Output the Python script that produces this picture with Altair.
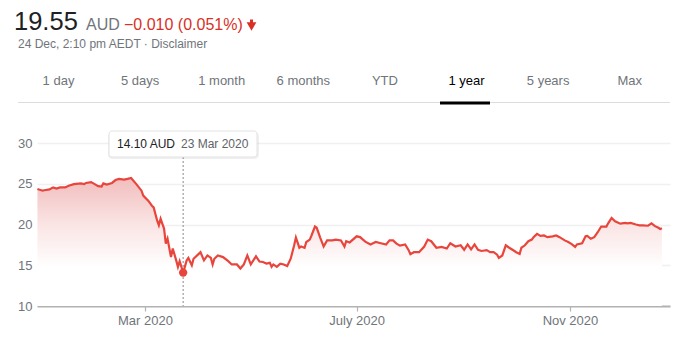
import altair as alt
import pandas as pd

# ---- data ----
dates = [
    "2019-12-30", "2020-01-02", "2020-01-03", "2020-01-06", "2020-01-08", "2020-01-10",
    "2020-01-12", "2020-01-15", "2020-01-17", "2020-01-20", "2020-01-24", "2020-01-26",
    "2020-01-27", "2020-01-30", "2020-02-01", "2020-02-03", "2020-02-05", "2020-02-06",
    "2020-02-08", "2020-02-11", "2020-02-13", "2020-02-15", "2020-02-18", "2020-02-20",
    "2020-02-22", "2020-02-25", "2020-02-28", "2020-02-29", "2020-03-03", "2020-03-05",
    "2020-03-06", "2020-03-08", "2020-03-09", "2020-03-10", "2020-03-12", "2020-03-13",
    "2020-03-14", "2020-03-16", "2020-03-17", "2020-03-19", "2020-03-20", "2020-03-21",
    "2020-03-23", "2020-03-24", "2020-03-25", "2020-03-26", "2020-03-28", "2020-03-29",
    "2020-04-01", "2020-04-02", "2020-04-04", "2020-04-06", "2020-04-08", "2020-04-09",
    "2020-04-10", "2020-04-12", "2020-04-15", "2020-04-18", "2020-04-20", "2020-04-23",
    "2020-04-25", "2020-04-27", "2020-04-29", "2020-05-01", "2020-05-04", "2020-05-06",
    "2020-05-08", "2020-05-10", "2020-05-12", "2020-05-13", "2020-05-14", "2020-05-16",
    "2020-05-18", "2020-05-20", "2020-05-22", "2020-05-24", "2020-05-26", "2020-05-27",
    "2020-05-29", "2020-05-30", "2020-06-01", "2020-06-02", "2020-06-04", "2020-06-05",
    "2020-06-07", "2020-06-08", "2020-06-10", "2020-06-12", "2020-06-14", "2020-06-17",
    "2020-06-19", "2020-06-22", "2020-06-24", "2020-06-25", "2020-06-27", "2020-07-01",
    "2020-07-03", "2020-07-06", "2020-07-09", "2020-07-12", "2020-07-15", "2020-07-18",
    "2020-07-20", "2020-07-22", "2020-07-24", "2020-07-26", "2020-07-29", "2020-07-31",
    "2020-08-01", "2020-08-03", "2020-08-06", "2020-08-09", "2020-08-11", "2020-08-13",
    "2020-08-16", "2020-08-19", "2020-08-22", "2020-08-24", "2020-08-27", "2020-08-30",
    "2020-09-01", "2020-09-03", "2020-09-05", "2020-09-07", "2020-09-09", "2020-09-11",
    "2020-09-14", "2020-09-16", "2020-09-18", "2020-09-20", "2020-09-21", "2020-09-23",
    "2020-09-25", "2020-09-27", "2020-09-30", "2020-10-01", "2020-10-03", "2020-10-04",
    "2020-10-06", "2020-10-08", "2020-10-10", "2020-10-11", "2020-10-13", "2020-10-15",
    "2020-10-17", "2020-10-19", "2020-10-22", "2020-10-24", "2020-10-26", "2020-10-29",
    "2020-10-31", "2020-11-02", "2020-11-04", "2020-11-05", "2020-11-08", "2020-11-10",
    "2020-11-11", "2020-11-13", "2020-11-15", "2020-11-17", "2020-11-19", "2020-11-22",
    "2020-11-23", "2020-11-25", "2020-11-27", "2020-11-30", "2020-12-03", "2020-12-04",
    "2020-12-06", "2020-12-09", "2020-12-11", "2020-12-13", "2020-12-16", "2020-12-18",
    "2020-12-20", "2020-12-22", "2020-12-23", "2020-12-24",
]
prices = [
    24.35, 24.15, 24.20, 24.30, 24.55, 24.40,
    24.55, 24.55, 24.75, 24.95, 25.05, 24.95,
    25.10, 25.20, 24.95, 24.70, 24.65, 25.05,
    24.90, 25.10, 25.45, 25.60, 25.50, 25.60,
    25.70, 24.95, 24.15, 23.55, 22.90, 22.30,
    22.10, 20.50, 19.90, 20.70, 19.50, 17.65,
    18.25, 16.00, 17.05, 15.60, 14.80, 15.50,
    14.10, 14.80, 15.60, 15.90, 15.00, 15.80,
    16.40, 16.60, 15.60, 16.20, 15.90, 15.10,
    15.80, 16.20, 16.00, 15.50, 15.10, 15.10,
    14.60, 15.10, 16.20, 15.10, 16.10, 15.45,
    15.40, 15.20, 15.30, 14.80, 15.10, 14.80,
    15.20, 15.10, 14.90, 15.80, 17.45, 18.40,
    17.15, 17.30, 17.15, 17.85, 18.15, 18.65,
    19.75, 19.60, 18.40, 17.30, 18.05, 18.05,
    18.15, 18.05, 17.30, 17.95, 17.80, 18.55,
    18.45, 17.90, 17.55, 17.85, 17.70, 17.55,
    18.05, 18.05, 17.65, 17.40, 17.55, 16.85,
    16.35, 16.60, 16.60, 17.30, 18.15, 17.95,
    17.15, 17.25, 17.05, 17.70, 17.30, 17.45,
    16.90, 17.55, 16.95, 17.55, 16.90, 16.75,
    16.85, 16.60, 16.60, 16.30, 15.90, 16.20,
    17.45, 17.15, 16.75, 16.60, 16.40, 17.15,
    17.45, 17.95, 18.15, 18.45, 18.85, 18.60,
    18.65, 18.45, 18.55, 18.65, 18.45, 18.05,
    17.85, 17.60, 17.25, 17.55, 17.70, 18.55,
    18.60, 18.25, 18.45, 19.05, 19.75, 19.75,
    20.15, 20.80, 20.40, 20.10, 20.20, 20.15,
    20.20, 20.00, 19.90, 19.90, 19.85, 20.15,
    19.80, 19.60, 19.45, 19.55,
]

y_ticks = [10, 15, 20, 25, 30]
tick_dates = ["2020-03-01", "2020-07-01", "2020-11-01"]
tick_labels = ["Mar 2020", "July 2020", "Nov 2020"]

hl_date = ["2020-03-23"]
hl_price = [14.10]
hl_price_text = "14.10 AUD"
hl_date_text = "23 Mar 2020"

header_price = "19.55"
header_ccy = "AUD"
header_change = "\u22120.010 (0.051%)"
header_sub = "24 Dec, 2:10 pm AEDT \u00b7 Disclaimer"
tabs = ["1 day", "5 days", "1 month", "6 months", "YTD", "1 year", "5 years", "Max"]
active_tab = "1 year"

# ---- styling ----
FONT = "Liberation Sans"
RED = "#e8453c"
TXT_RED = "#d93025"
GREY = "#70757a"
DARK = "#202124"

df = pd.DataFrame({"date": dates, "price": prices})
hl = pd.DataFrame({"date": hl_date, "price": hl_price})
one = pd.DataFrame({"a": [0]})

x_dom = [alt.DateTime(year=2019, month=12, date=29, hours=18, utc=True),
         alt.DateTime(year=2020, month=12, date=28, hours=16, utc=True)]
tick_vals = [alt.DateTime(year=int(d[:4]), month=int(d[5:7]), date=int(d[8:]), utc=True)
             for d in tick_dates]
label_expr = " : ".join(
    f"utcFormat(datum.value, '%Y-%m-%d') == '{d}' ? '{l}'" for d, l in zip(tick_dates, tick_labels)
) + " : ''"

xscale = alt.Scale(type="utc", domain=x_dom)
yscale = alt.Scale(domain=[10, 30], zero=False, nice=False)

X = alt.X("date:T", scale=xscale,
          axis=alt.Axis(values=tick_vals, labelExpr=label_expr, title=None, grid=False,
                        domainColor="#b3b3b3", domainWidth=2, tickColor="#b3b3b3",
                        tickSize=5, tickWidth=1.2, labelColor=GREY, labelFontSize=13,
                        labelFont=FONT, labelPadding=3, labelFlush=False))
Y = alt.Y("price:Q", scale=yscale,
          axis=alt.Axis(values=y_ticks, title=None, domain=False, ticks=False,
                        gridColor="#f0f0f0", gridWidth=1.5, labelColor=GREY,
                        labelFontSize=13, labelFont=FONT, labelPadding=5))

gradient = alt.Gradient(
    gradient="linear", x1=0, x2=0, y1=0, y2=1,
    stops=[alt.GradientStop(color="#f2bdbd", offset=0),
           alt.GradientStop(color="#fae3e3", offset=0.35),
           alt.GradientStop(color="#ffffff", offset=0.7)])

area = alt.Chart(df).mark_area(color=gradient).encode(x=X, y=Y, y2=alt.datum(10))
line = alt.Chart(df).mark_line(color=RED, strokeWidth=2.2, interpolate="linear").encode(
    x=alt.X("date:T", scale=xscale), y=alt.Y("price:Q", scale=yscale))

vrule = alt.Chart(hl).mark_rule(color="#8a8a8a", strokeDash=[2, 2], strokeWidth=1).encode(
    x=alt.X("date:T", scale=xscale), y=alt.value(14), y2=alt.value(163))
dot = alt.Chart(hl).mark_point(filled=True, color=RED, size=70, opacity=1).encode(
    x=alt.X("date:T", scale=xscale), y=alt.Y("price:Q", scale=yscale))

# tooltip box
shadow = alt.Chart(one).mark_rect(color="#000000", opacity=0.06, cornerRadius=4).encode(
    x=alt.value(71), x2=alt.value(222), y=alt.value(-11), y2=alt.value(16))
box = alt.Chart(one).mark_rect(color="#ffffff", stroke="#e3e3e3", strokeWidth=1,
                               cornerRadius=3).encode(
    x=alt.value(72), x2=alt.value(220), y=alt.value(-12), y2=alt.value(14))
tt1 = alt.Chart(one).mark_text(text=hl_price_text, align="left", baseline="alphabetic",
                               font=FONT, fontSize=12, color=DARK).encode(
    x=alt.value(80), y=alt.value(5))
tt2 = alt.Chart(one).mark_text(text=hl_date_text, align="left", baseline="alphabetic",
                               font=FONT, fontSize=12, color="#5f6368").encode(
    x=alt.value(144), y=alt.value(5))

# header
def txt(t, x, y, size, color, weight="normal", align="left"):
    return alt.Chart(one).mark_text(text=t, align=align, baseline="alphabetic", font=FONT,
                                    fontSize=size, color=color, fontWeight=weight).encode(
        x=alt.value(x), y=alt.value(y))

hdr = [
    txt(header_price, -23, -113, 25.5, DARK),
    txt(header_ccy, 49, -113, 16, GREY),
    txt(header_change, 87, -113, 16, TXT_RED),
    txt(header_sub, -19, -95, 12, GREY),
]
for i, t in enumerate(tabs):
    cx = 21.5 + i * 81.6
    hdr.append(txt(t, cx, -58.5, 13, "#000000" if t == active_tab else GREY, align="center"))

# down arrow next to change
arrow_stem = alt.Chart(one).mark_rule(color=TXT_RED, strokeWidth=3).encode(
    x=alt.value(214.5), y=alt.value(-123.5), y2=alt.value(-117))
arrow_head = alt.Chart(one).mark_point(shape="triangle-down", filled=True, color=TXT_RED,
                                       size=95, opacity=1).encode(
    x=alt.value(214.5), y=alt.value(-116.5))

tabline = alt.Chart(one).mark_rule(color="#dadce0", strokeWidth=1).encode(
    x=alt.value(-19), x2=alt.value(633), y=alt.value(-40.5))
active_line = alt.Chart(one).mark_rule(color="#000000", strokeWidth=3).encode(
    x=alt.value(403), x2=alt.value(453), y=alt.value(-40))

chart = alt.layer(
    area, line, vrule, dot, shadow, box, tt1, tt2, tabline, active_line,
    arrow_stem, arrow_head, *hdr
).properties(
    width=633, height=163, autosize="none",
    padding={"left": 37, "top": 143, "right": 15, "bottom": 31},
    background="#ffffff",
).configure_view(strokeWidth=0)

chart.save("out.html", embed_options={"renderer": "svg", "actions": False})
